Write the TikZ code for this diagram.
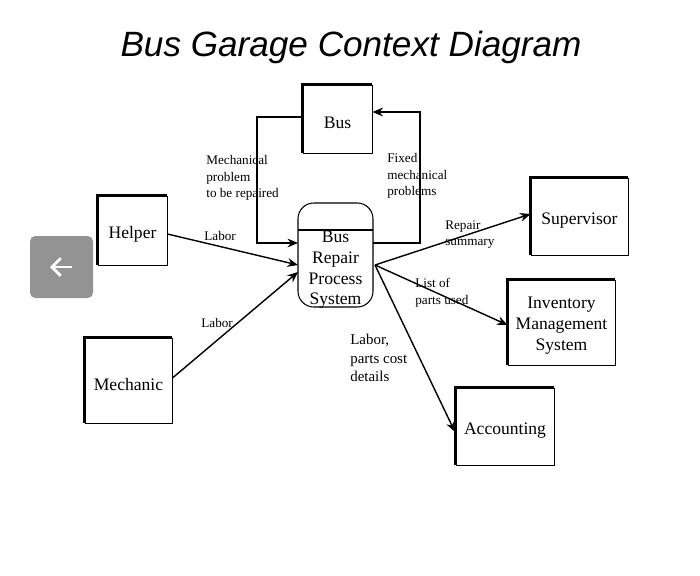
\documentclass[tikz,border=0pt]{standalone}
\usepackage{fontspec}
\setmainfont{Liberation Serif}
\newfontfamily\sansf{Liberation Sans}
\usetikzlibrary{arrows.meta}
\begin{document}
\begin{tikzpicture}[x=0.02cm,y=-0.02cm,
  ent/.style={draw,line width=0.5pt,fill=white,inner sep=0pt},
  enttxt/.style={font=\fontsize{10}{11.8}\selectfont,align=center,inner sep=0pt},
  lbl/.style={font=\fontsize{7.5}{9.4}\selectfont,align=left,anchor=north west,inner sep=0pt},
  flow/.style={line width=0.8pt,-{Stealth[length=6pt,width=5pt]}}]
\useasboundingbox (0,0) rectangle (700,575);
\node[font=\sansf\itshape\fontsize{20}{24}\selectfont] (title) at (351,47) {Bus Garage Context Diagram};
% back button
\fill[gray!85,rounded corners=3pt] (30,236) rectangle (93,298);
\draw[white,line width=1.6pt,-{Straight Barb[length=5pt,width=10pt]}] (72,267) -- (50,267);
% entities: thick top/left edge, text a little below centre
\newcommand{\entity}[7]{%
  \node[ent,minimum width=#4*0.02cm,minimum height=#5*0.02cm] (#1) at (#2,#3) {};
  \node[enttxt] (#1-t) at (#2,#3+#7) {#6};
  \draw[line width=2.2pt] (#1.south west) -- (#1.north west) -- (#1.north east);}
\entity{bus}{337.5}{119}{69}{68}{Bus}{4}
\entity{helper}{132.5}{230.5}{69}{69}{Helper}{4}
\entity{mech}{128.5}{380.5}{87}{85}{Mechanic}{4}
\entity{sup}{579.5}{216.5}{97}{77}{Supervisor}{4}
\entity{inv}{561.5}{322.5}{107}{85}{Inventory\\Management\\System}{3}
\entity{acc}{505}{426.5}{98}{77}{Accounting}{4}
% process
\draw[rounded corners=9pt,line width=0.6pt] (298,203) rectangle (373,307);
\draw[line width=0.6pt] (298,230) -- (373,230);
\node[enttxt] (proc) at (335.5,270) {Bus\\Repair\\Process\\System};
\coordinate (pin) at (298,243);
\coordinate (pout) at (373,243);
\coordinate (pr) at (375,265);
% flows
\draw[flow] (bus.west|-0,117) -- (257,117) -- (257,243) -- (pin);
\draw[flow] (pout) -- (420,243) -- (420,112) -- (bus.east|-0,112);
\draw[flow] (helper.east|-0,234) -- (298,265);
\draw[flow] (mech.east|-0,378) -- (298,272);
\draw[flow] (pr) -- (sup.west|-0,214);
\draw[flow] (pr) -- (inv.west|-0,325);
\draw[flow] (pr) -- (455,432);
% labels
\node[lbl] (l1) at (206,155) {Mechanical\\problem\\to be repaired};
\node[lbl] (l2) at (387,153) {Fixed\\mechanical\\problems};
\node[lbl] (l3) at (204,231) {Labor};
\node[lbl] (l4) at (201,318) {Labor};
\node[lbl] (l5) at (445,220) {Repair\\summary};
\node[lbl] (l6) at (415,278) {List of\\parts used};
\node[lbl,font=\fontsize{8.5}{10.6}\selectfont] (l7) at (350,334) {Labor,\\parts cost\\details};
\end{tikzpicture}
\end{document}
